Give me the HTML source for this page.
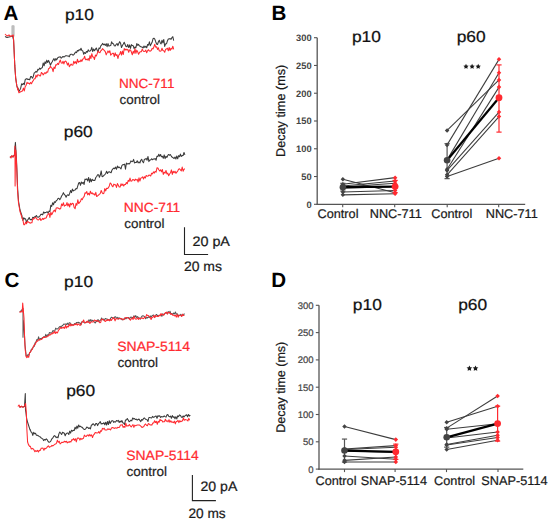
<!DOCTYPE html>
<html><head><meta charset="utf-8"><title>figure</title>
<style>
html,body{margin:0;padding:0;background:#fff;}
body{width:550px;height:523px;position:relative;overflow:hidden;font-family:"Liberation Sans", sans-serif;}
svg text{font-family:"Liberation Sans", sans-serif;text-rendering:geometricPrecision;}
</style></head><body>
<svg width="550" height="523" viewBox="0 0 550 523" style="position:absolute;left:0;top:0">
<text x="3.60" y="19.50" font-size="20.60" fill="#000" font-weight="bold" text-anchor="start" >A</text>
<text x="271.60" y="20.40" font-size="20.60" fill="#000" font-weight="bold" text-anchor="start" >B</text>
<text x="4.50" y="286.60" font-size="20.60" fill="#000" font-weight="bold" text-anchor="start" >C</text>
<text x="271.20" y="286.70" font-size="20.60" fill="#000" font-weight="bold" text-anchor="start" >D</text>
<text x="0" y="0" font-size="15.80" fill="#111" stroke="#111" stroke-width="0.22" font-weight="normal" text-anchor="start" transform="translate(64.95,19.80) scale(1.100,1)">p10</text>
<text x="0" y="0" font-size="15.80" fill="#111" stroke="#111" stroke-width="0.22" font-weight="normal" text-anchor="start" transform="translate(63.75,136.90) scale(1.100,1)">p60</text>
<rect x="11.9" y="25.8" width="2.2" height="10.5" fill="#c4c4c4" stroke="#999" stroke-width="0.5"/>
<polyline points="5.00,36.50 7.00,37.50 9.00,37.00 11.00,36.50 12.60,36.00 13.60,40.00 14.10,50.60 14.80,65.90 15.70,78.10 16.80,85.70 18.00,89.50 18.00,87.76 18.90,91.42 19.80,89.94 20.70,88.23 21.60,83.83 22.50,84.70 23.40,83.33 24.30,84.71 25.20,79.70 26.10,78.88 27.00,78.72 27.90,79.52 28.80,79.23 29.70,79.82 30.60,76.52 31.50,76.54 32.40,78.15 33.30,76.40 34.20,72.99 35.10,72.31 36.00,71.29 36.90,72.11 37.80,69.36 38.70,69.88 39.60,68.11 40.50,69.15 41.40,67.98 42.30,67.76 43.20,62.91 44.10,65.79 45.00,61.86 45.90,63.45 46.80,60.14 47.70,62.53 48.60,60.36 49.50,62.42 50.40,65.17 51.30,63.31 52.20,61.83 53.10,60.03 54.00,58.66 54.90,60.87 55.80,58.61 56.70,59.88 57.60,57.93 58.50,57.26 59.40,57.01 60.30,56.77 61.20,58.25 62.10,57.26 63.00,56.53 63.90,56.97 64.80,56.43 65.70,55.80 66.60,55.80 67.50,55.98 68.40,55.97 69.30,56.78 70.20,54.56 71.10,54.22 72.00,54.24 72.90,55.18 73.80,54.82 74.70,53.40 75.60,51.94 76.50,52.71 77.40,50.51 78.30,50.98 79.20,49.59 80.10,50.18 81.00,48.30 81.90,50.43 82.80,50.91 83.70,54.25 84.60,52.50 85.50,53.51 86.40,51.51 87.30,52.24 88.20,49.83 89.10,51.28 90.00,51.10 90.90,50.07 91.80,47.41 92.70,51.61 93.60,49.02 94.50,50.74 95.40,49.39 96.30,47.99 97.20,50.31 98.10,51.88 99.00,47.98 99.90,48.67 100.80,45.91 101.70,44.93 102.60,43.40 103.50,44.81 104.40,44.07 105.30,45.43 106.20,43.65 107.10,46.72 108.00,43.55 108.90,46.14 109.80,45.75 110.70,45.59 111.60,41.88 112.50,43.44 113.40,43.64 114.30,45.78 115.20,46.05 116.10,44.52 117.00,43.49 117.90,45.66 118.80,43.56 119.70,41.65 120.60,43.30 121.50,47.54 122.40,45.51 123.30,44.00 124.20,42.31 125.10,44.45 126.00,46.57 126.90,46.77 127.80,44.57 128.70,47.57 129.60,44.88 130.50,48.36 131.40,44.65 132.30,45.52 133.20,45.76 134.10,48.66 135.00,46.99 135.90,47.74 136.80,43.54 137.70,45.33 138.60,44.39 139.50,45.98 140.40,46.29 141.30,47.02 142.20,47.03 143.10,47.94 144.00,46.02 144.90,47.49 145.80,46.22 146.70,47.77 147.60,44.50 148.50,45.11 149.40,41.78 150.30,45.65 151.20,44.07 152.10,42.34 153.00,38.77 153.90,38.17 154.80,39.05 155.70,41.69 156.60,43.96 157.50,44.52 158.40,41.78 159.30,40.20 160.20,42.86 161.10,43.93 162.00,40.17 162.90,42.85 163.80,39.45 164.70,46.45 165.60,43.88 166.50,43.84 167.40,40.91 168.30,38.91 169.20,38.89 170.10,38.60 171.00,39.36 171.90,37.65 172.80,36.71 173.70,40.73" fill="none" stroke="#3a3a3a" stroke-width="1.05" stroke-linejoin="round" stroke-opacity="1.00"/>
<polyline points="5.00,34.00 7.00,36.00 9.00,35.00 11.00,36.50 13.20,35.00 13.60,40.00 14.10,50.60 14.80,65.90 15.70,78.10 16.80,85.70 18.00,90.30 18.00,88.47 18.90,92.80 19.80,92.00 20.70,91.89 21.60,91.25 22.50,90.90 23.40,88.04 24.30,90.92 25.20,86.60 26.10,85.26 27.00,82.31 27.90,83.51 28.80,82.97 29.70,84.10 30.60,82.41 31.50,83.81 32.40,81.69 33.30,80.63 34.20,78.77 35.10,78.82 36.00,75.15 36.90,77.09 37.80,74.68 38.70,74.89 39.60,75.75 40.50,75.86 41.40,72.42 42.30,73.32 43.20,74.88 44.10,73.61 45.00,72.53 45.90,73.57 46.80,71.87 47.70,72.20 48.60,68.50 49.50,68.32 50.40,66.24 51.30,67.59 52.20,68.35 53.10,71.72 54.00,67.08 54.90,68.52 55.80,64.73 56.70,65.00 57.60,63.41 58.50,64.54 59.40,61.93 60.30,60.03 61.20,62.85 62.10,63.35 63.00,61.24 63.90,63.93 64.80,61.38 65.70,61.09 66.60,62.35 67.50,64.99 68.40,62.99 69.30,66.72 70.20,65.36 71.10,64.01 72.00,65.16 72.90,65.08 73.80,61.18 74.70,63.38 75.60,61.67 76.50,63.66 77.40,59.25 78.30,62.32 79.20,61.15 80.10,61.78 81.00,59.77 81.90,61.38 82.80,59.04 83.70,58.83 84.60,56.17 85.50,59.72 86.40,59.19 87.30,60.02 88.20,58.52 89.10,60.66 90.00,55.54 90.90,58.53 91.80,53.70 92.70,56.96 93.60,57.02 94.50,59.49 95.40,55.07 96.30,56.06 97.20,53.58 98.10,51.22 99.00,52.12 99.90,52.75 100.80,50.78 101.70,50.01 102.60,48.66 103.50,49.74 104.40,50.64 105.30,51.71 106.20,54.85 107.10,52.87 108.00,50.92 108.90,52.58 109.80,50.71 110.70,55.18 111.60,54.15 112.50,53.26 113.40,53.23 114.30,56.59 115.20,52.85 116.10,55.60 117.00,54.53 117.90,58.49 118.80,55.15 119.70,54.21 120.60,51.47 121.50,55.06 122.40,51.01 123.30,54.53 124.20,48.49 125.10,50.10 126.00,49.10 126.90,50.03 127.80,49.40 128.70,52.27 129.60,49.88 130.50,49.93 131.40,52.00 132.30,54.79 133.20,51.31 134.10,53.31 135.00,48.50 135.90,53.33 136.80,50.16 137.70,51.86 138.60,54.30 139.50,52.42 140.40,51.72 141.30,51.81 142.20,49.09 143.10,50.82 144.00,51.58 144.90,51.34 145.80,50.06 146.70,52.82 147.60,50.57 148.50,49.73 149.40,51.10 150.30,51.13 151.20,50.52 152.10,48.34 153.00,48.94 153.90,46.80 154.80,44.29 155.70,47.17 156.60,46.75 157.50,49.45 158.40,47.81 159.30,50.82 160.20,51.30 161.10,50.86 162.00,48.26 162.90,50.48 163.80,50.69 164.70,52.29 165.60,49.35 166.50,49.01 167.40,48.19 168.30,50.74 169.20,47.49 170.10,50.56 171.00,48.27 171.90,49.11 172.80,46.25 173.70,49.43" fill="none" stroke="#ff2a30" stroke-width="1.05" stroke-linejoin="round" stroke-opacity="1.00"/>
<polyline points="10.00,157.50 11.50,156.00 13.00,157.00 14.50,154.50 15.40,142.40 16.00,152.00 16.50,160.00 17.00,172.00 17.60,188.00 18.50,201.00 20.00,210.00 22.00,216.00 22.00,216.88 22.90,220.40 23.80,217.72 24.70,218.92 25.60,218.89 26.50,222.54 27.40,220.23 28.30,219.15 29.20,217.48 30.10,219.62 31.00,219.46 31.90,219.67 32.80,217.18 33.70,218.02 34.60,216.74 35.50,216.61 36.40,215.45 37.30,216.99 38.20,217.27 39.10,216.69 40.00,215.77 40.90,214.38 41.80,214.32 42.70,214.84 43.60,211.92 44.50,213.06 45.40,212.52 46.30,212.19 47.20,211.70 48.10,213.12 49.00,211.16 49.90,211.56 50.80,205.31 51.70,206.34 52.60,202.78 53.50,204.78 54.40,201.76 55.30,202.40 56.20,200.71 57.10,200.11 58.00,198.56 58.90,198.32 59.80,199.69 60.70,198.20 61.60,196.05 62.50,194.68 63.40,192.66 64.30,194.48 65.20,195.32 66.10,197.27 67.00,195.34 67.90,194.79 68.80,195.54 69.70,193.34 70.60,190.51 71.50,192.64 72.40,189.13 73.30,190.93 74.20,190.20 75.10,190.04 76.00,188.46 76.90,188.89 77.80,185.92 78.70,183.03 79.60,182.44 80.50,185.31 81.40,181.97 82.30,183.39 83.20,182.28 84.10,184.49 85.00,179.14 85.90,179.48 86.80,178.83 87.70,180.99 88.60,177.42 89.50,182.33 90.40,178.70 91.30,181.81 92.20,179.25 93.10,180.43 94.00,180.31 94.90,180.43 95.80,177.50 96.70,176.50 97.60,174.69 98.50,174.67 99.40,177.25 100.30,175.04 101.20,170.90 102.10,176.72 103.00,176.27 103.90,175.49 104.80,174.58 105.70,173.53 106.60,171.32 107.50,173.47 108.40,171.91 109.30,171.70 110.20,172.24 111.10,172.74 112.00,170.02 112.90,168.83 113.80,168.05 114.70,168.70 115.60,167.13 116.50,169.28 117.40,166.07 118.30,167.63 119.20,167.04 120.10,167.95 121.00,168.93 121.90,165.58 122.80,164.72 123.70,164.63 124.60,164.16 125.50,169.16 126.40,163.00 127.30,164.08 128.20,163.52 129.10,164.02 130.00,163.08 130.90,160.89 131.80,161.73 132.70,161.51 133.60,159.38 134.50,162.96 135.40,162.40 136.30,162.53 137.20,160.75 138.10,162.90 139.00,161.97 139.90,163.02 140.80,160.28 141.70,159.22 142.60,161.74 143.50,162.76 144.40,159.23 145.30,159.22 146.20,158.41 147.10,160.16 148.00,156.49 148.90,161.60 149.80,160.10 150.70,160.02 151.60,158.77 152.50,159.71 153.40,159.03 154.30,159.10 155.20,158.49 156.10,160.18 157.00,156.16 157.90,156.46 158.80,154.29 159.70,156.28 160.60,154.56 161.50,156.82 162.40,156.25 163.30,158.24 164.20,154.91 165.10,158.63 166.00,156.30 166.90,157.44 167.80,155.42 168.70,154.48 169.60,155.29 170.50,154.62 171.40,156.37 172.30,157.31 173.20,157.79 174.10,158.50 175.00,156.93 175.90,159.07 176.80,155.99 177.70,158.79 178.60,155.63 179.50,156.80 180.40,154.06 181.30,156.49 182.20,155.62 183.10,155.49 184.00,152.51 184.90,154.93" fill="none" stroke="#3a3a3a" stroke-width="1.05" stroke-linejoin="round" stroke-opacity="1.00"/>
<polyline points="10.00,156.50 11.00,158.00 12.00,155.50 13.20,157.00 14.50,155.00 15.00,146.00 15.10,186.00 15.30,170.00 15.80,150.00 16.30,158.00 16.90,172.00 17.50,190.00 18.50,203.00 20.00,211.50 22.00,217.50 22.00,218.04 22.90,219.99 23.80,224.71 24.70,224.66 25.60,222.25 26.50,223.74 27.40,221.25 28.30,222.07 29.20,222.46 30.10,223.13 31.00,222.83 31.90,222.83 32.80,218.51 33.70,219.21 34.60,218.00 35.50,217.52 36.40,217.96 37.30,219.63 38.20,220.02 39.10,219.33 40.00,218.05 40.90,220.46 41.80,219.62 42.70,218.33 43.60,219.34 44.50,218.19 45.40,218.26 46.30,217.71 47.20,215.23 48.10,214.30 49.00,213.12 49.90,217.48 50.80,212.30 51.70,214.79 52.60,212.94 53.50,211.08 54.40,210.14 55.30,211.86 56.20,207.98 57.10,207.84 58.00,208.03 58.90,208.55 59.80,209.14 60.70,208.50 61.60,203.92 62.50,205.63 63.40,202.72 64.30,206.15 65.20,205.36 66.10,205.22 67.00,202.57 67.90,206.03 68.80,203.68 69.70,206.99 70.60,203.25 71.50,204.80 72.40,203.18 73.30,203.78 74.20,207.53 75.10,208.74 76.00,203.54 76.90,205.12 77.80,199.73 78.70,203.56 79.60,202.39 80.50,201.34 81.40,198.70 82.30,199.64 83.20,197.48 84.10,196.53 85.00,192.81 85.90,193.31 86.80,191.59 87.70,194.85 88.60,193.32 89.50,194.96 90.40,191.16 91.30,193.61 92.20,192.78 93.10,194.28 94.00,193.70 94.90,195.20 95.80,192.32 96.70,196.56 97.60,195.78 98.50,195.02 99.40,194.29 100.30,193.38 101.20,190.50 102.10,192.55 103.00,193.67 103.90,193.17 104.80,188.61 105.70,190.89 106.60,188.25 107.50,188.47 108.40,187.79 109.30,185.93 110.20,182.93 111.10,183.81 112.00,185.85 112.90,186.81 113.80,184.15 114.70,184.76 115.60,184.88 116.50,187.41 117.40,183.50 118.30,185.21 119.20,187.05 120.10,187.03 121.00,183.87 121.90,185.54 122.80,183.97 123.70,186.04 124.60,184.50 125.50,184.58 126.40,182.48 127.30,183.73 128.20,180.29 129.10,181.44 130.00,178.08 130.90,181.23 131.80,180.96 132.70,179.48 133.60,179.65 134.50,180.66 135.40,179.16 136.30,180.05 137.20,179.36 138.10,182.06 139.00,177.82 139.90,180.99 140.80,178.20 141.70,177.61 142.60,176.81 143.50,179.07 144.40,176.74 145.30,178.04 146.20,175.52 147.10,175.92 148.00,176.15 148.90,175.06 149.80,175.33 150.70,175.99 151.60,173.24 152.50,173.88 153.40,171.89 154.30,173.08 155.20,171.36 156.10,172.15 157.00,167.78 157.90,167.94 158.80,169.80 159.70,171.00 160.60,169.79 161.50,171.85 162.40,169.54 163.30,174.38 164.20,172.18 165.10,173.08 166.00,170.44 166.90,173.99 167.80,173.17 168.70,175.77 169.60,174.01 170.50,172.80 171.40,169.91 172.30,174.40 173.20,171.27 174.10,172.78 175.00,171.32 175.90,173.32 176.80,172.10 177.70,171.09 178.60,169.29 179.50,168.78 180.40,169.82 181.30,170.82 182.20,167.03 183.10,171.17 184.00,169.18 184.90,168.77" fill="none" stroke="#ff2a30" stroke-width="1.05" stroke-linejoin="round" stroke-opacity="1.00"/>
<text x="0" y="0" font-size="13.30" fill="#ff2a30" stroke="#ff2a30" stroke-width="0.22" font-weight="normal" text-anchor="start" transform="translate(118.90,87.70) scale(1.020,1)">NNC-711</text>
<text x="0" y="0" font-size="13.20" fill="#262626" stroke="#262626" stroke-width="0.22" font-weight="normal" text-anchor="start" transform="translate(119.50,104.20) scale(1.020,1)">control</text>
<text x="0" y="0" font-size="13.30" fill="#ff2a30" stroke="#ff2a30" stroke-width="0.22" font-weight="normal" text-anchor="start" transform="translate(123.70,211.60) scale(1.040,1)">NNC-711</text>
<text x="0" y="0" font-size="13.20" fill="#262626" stroke="#262626" stroke-width="0.22" font-weight="normal" text-anchor="start" transform="translate(124.20,227.80) scale(1.020,1)">control</text>
<path d="M184.5,227.3 V254.5 H208.1" fill="none" stroke="#222" stroke-width="1.1"/>
<text x="0" y="0" font-size="13.70" fill="#1a1a1a" stroke="#1a1a1a" stroke-width="0.22" font-weight="normal" text-anchor="start" transform="translate(192.40,246.20) scale(1.050,1)">20 pA</text>
<text x="0" y="0" font-size="13.70" fill="#1a1a1a" stroke="#1a1a1a" stroke-width="0.22" font-weight="normal" text-anchor="start" transform="translate(183.90,271.20) scale(1.020,1)">20 ms</text>
<text x="0" y="0" font-size="15.80" fill="#111" stroke="#111" stroke-width="0.22" font-weight="normal" text-anchor="start" transform="translate(64.05,286.90) scale(1.100,1)">p10</text>
<text x="0" y="0" font-size="15.80" fill="#111" stroke="#111" stroke-width="0.22" font-weight="normal" text-anchor="start" transform="translate(66.15,396.30) scale(1.100,1)">p60</text>
<polyline points="19.60,311.70 21.00,311.00 22.50,309.00 23.00,308.40 23.00,337.20 23.30,320.00 24.20,330.00 25.00,345.00 26.00,354.00 26.00,355.29 26.90,356.34 27.80,354.73 28.70,355.27 29.60,352.81 30.50,351.84 31.40,349.11 32.30,349.25 33.20,346.90 34.10,346.55 35.00,343.20 35.90,342.09 36.80,339.59 37.70,340.20 38.60,336.85 39.50,340.04 40.40,338.42 41.30,338.65 42.20,338.03 43.10,337.54 44.00,336.52 44.90,337.41 45.80,334.35 46.70,336.78 47.60,334.83 48.50,335.28 49.40,332.59 50.30,332.72 51.20,333.31 52.10,332.25 53.00,330.50 53.90,331.31 54.80,330.92 55.70,328.16 56.60,329.04 57.50,328.98 58.40,328.11 59.30,326.98 60.20,326.35 61.10,328.03 62.00,325.79 62.90,325.33 63.80,323.96 64.70,324.19 65.60,324.04 66.50,324.57 67.40,323.16 68.30,324.85 69.20,322.77 70.10,322.84 71.00,325.14 71.90,324.39 72.80,325.00 73.70,324.84 74.60,323.44 75.50,324.54 76.40,322.55 77.30,322.83 78.20,322.27 79.10,322.89 80.00,322.86 80.90,324.86 81.80,321.69 82.70,321.80 83.60,322.05 84.50,322.93 85.40,322.62 86.30,321.92 87.20,321.68 88.10,322.04 89.00,319.67 89.90,321.63 90.80,319.44 91.70,321.49 92.60,320.21 93.50,320.99 94.40,322.12 95.30,323.00 96.20,321.21 97.10,321.57 98.00,319.54 98.90,321.58 99.80,320.61 100.70,320.00 101.60,317.95 102.50,319.67 103.40,318.97 104.30,320.63 105.20,318.44 106.10,318.83 107.00,318.95 107.90,319.74 108.80,319.61 109.70,320.74 110.60,318.27 111.50,317.17 112.40,317.73 113.30,318.28 114.20,318.17 115.10,316.62 116.00,317.18 116.90,318.57 117.80,317.36 118.70,318.89 119.60,317.94 120.50,318.74 121.40,318.82 122.30,319.92 123.20,319.12 124.10,319.20 125.00,317.92 125.90,318.90 126.80,317.93 127.70,317.75 128.60,317.55 129.50,319.00 130.40,317.26 131.30,317.13 132.20,317.42 133.10,317.44 134.00,315.71 134.90,317.24 135.80,315.63 136.70,317.66 137.60,316.55 138.50,317.73 139.40,317.96 140.30,319.08 141.20,317.33 142.10,315.91 143.00,315.76 143.90,316.12 144.80,316.86 145.70,318.69 146.60,317.44 147.50,317.96 148.40,316.92 149.30,317.67 150.20,315.87 151.10,317.33 152.00,315.66 152.90,315.35 153.80,315.12 154.70,317.37 155.60,315.47 156.50,314.46 157.40,315.53 158.30,316.05 159.20,315.35 160.10,315.21 161.00,314.66 161.90,316.33 162.80,313.71 163.70,314.83 164.60,313.67 165.50,313.12 166.40,312.55 167.30,313.59 168.20,311.47 169.10,313.34 170.00,311.23 170.90,313.86 171.80,313.50 172.70,314.41 173.60,313.02 174.50,313.87 175.40,311.96 176.30,314.19 177.20,313.81 178.10,315.37 179.00,315.25 179.90,315.60 180.80,314.20 181.70,315.94 182.60,314.63 183.50,315.26 184.40,313.43" fill="none" stroke="#555" stroke-width="1.05" stroke-linejoin="round" stroke-opacity="1.00"/>
<polyline points="19.60,312.50 21.00,311.50 22.20,312.00 22.70,303.00 23.30,310.00 24.00,318.00 24.50,335.00 25.20,350.00 26.00,355.00 26.00,356.39 26.90,357.61 27.80,356.21 28.70,357.30 29.60,352.62 30.50,351.99 31.40,350.16 32.30,349.12 33.20,346.92 34.10,345.02 35.00,344.77 35.90,342.77 36.80,340.98 37.70,341.23 38.60,339.83 39.50,339.60 40.40,339.75 41.30,339.51 42.20,338.87 43.10,337.38 44.00,337.33 44.90,337.48 45.80,336.72 46.70,337.05 47.60,335.96 48.50,335.92 49.40,334.66 50.30,335.05 51.20,333.88 52.10,334.09 53.00,332.43 53.90,333.29 54.80,331.15 55.70,333.56 56.60,332.04 57.50,332.82 58.40,330.41 59.30,329.45 60.20,327.61 61.10,328.38 62.00,327.46 62.90,328.16 63.80,327.09 64.70,328.36 65.60,325.03 66.50,328.07 67.40,326.24 68.30,326.91 69.20,324.31 70.10,325.96 71.00,323.90 71.90,325.67 72.80,324.86 73.70,325.40 74.60,324.13 75.50,324.60 76.40,323.55 77.30,325.16 78.20,323.87 79.10,324.53 80.00,325.35 80.90,324.73 81.80,322.51 82.70,321.63 83.60,319.99 84.50,322.51 85.40,322.86 86.30,322.43 87.20,321.03 88.10,322.35 89.00,321.93 89.90,323.44 90.80,321.96 91.70,322.02 92.60,321.98 93.50,321.64 94.40,319.96 95.30,320.66 96.20,320.40 97.10,321.23 98.00,320.72 98.90,321.59 99.80,322.64 100.70,322.42 101.60,319.10 102.50,319.54 103.40,319.84 104.30,320.14 105.20,321.55 106.10,320.92 107.00,319.59 107.90,320.55 108.80,319.45 109.70,320.71 110.60,319.34 111.50,320.34 112.40,318.79 113.30,317.59 114.20,318.53 115.10,320.88 116.00,318.42 116.90,318.89 117.80,319.02 118.70,319.00 119.60,318.36 120.50,318.87 121.40,318.61 122.30,318.99 123.20,319.78 124.10,319.50 125.00,318.05 125.90,317.63 126.80,317.64 127.70,317.85 128.60,318.13 129.50,319.21 130.40,320.19 131.30,318.78 132.20,317.94 133.10,319.46 134.00,316.38 134.90,318.53 135.80,319.16 136.70,318.99 137.60,317.75 138.50,319.41 139.40,318.11 140.30,318.72 141.20,318.29 142.10,317.85 143.00,318.73 143.90,318.19 144.80,317.13 145.70,317.44 146.60,314.60 147.50,315.40 148.40,315.55 149.30,316.90 150.20,317.17 151.10,319.51 152.00,317.58 152.90,317.23 153.80,315.51 154.70,317.60 155.60,315.51 156.50,316.27 157.40,316.51 158.30,316.39 159.20,315.18 160.10,315.99 161.00,313.54 161.90,314.86 162.80,314.32 163.70,315.21 164.60,313.69 165.50,312.60 166.40,312.11 167.30,314.14 168.20,312.35 169.10,312.55 170.00,312.93 170.90,314.44 171.80,313.78 172.70,315.20 173.60,315.00 174.50,315.95 175.40,315.16 176.30,317.14 177.20,314.35 178.10,317.21 179.00,315.53 179.90,315.21 180.80,315.20 181.70,316.56 182.60,314.13 183.50,315.51 184.40,315.47" fill="none" stroke="#ff2a30" stroke-width="1.05" stroke-linejoin="round" stroke-opacity="1.00"/>
<text x="0" y="0" font-size="13.50" fill="#ff2a30" stroke="#ff2a30" stroke-width="0.22" font-weight="normal" text-anchor="start" transform="translate(117.30,350.60) scale(1.035,1)">SNAP-5114</text>
<text x="0" y="0" font-size="13.30" fill="#262626" stroke="#262626" stroke-width="0.22" font-weight="normal" text-anchor="start" transform="translate(117.40,366.80) scale(1.020,1)">control</text>
<polyline points="19.00,407.00 21.00,406.50 23.00,407.00 24.50,406.50 25.30,393.60 25.50,410.00 26.00,413.00 26.60,418.00 27.20,421.00 30.10,430.20 30.10,429.17 31.00,431.80 31.90,432.50 32.80,435.41 33.70,432.33 34.60,433.74 35.50,433.19 36.40,435.30 37.30,435.18 38.20,435.69 39.10,436.45 40.00,436.69 40.90,437.79 41.80,438.39 42.70,438.83 43.60,440.63 44.50,439.46 45.40,440.06 46.30,438.88 47.20,439.61 48.10,441.45 49.00,442.30 49.90,441.92 50.80,441.14 51.70,439.03 52.60,438.30 53.50,436.65 54.40,435.67 55.30,436.30 56.20,437.63 57.10,436.99 58.00,437.81 58.90,433.86 59.80,432.01 60.70,433.30 61.60,434.51 62.50,432.20 63.40,432.70 64.30,433.23 65.20,435.70 66.10,433.70 67.00,433.07 67.90,433.00 68.80,434.50 69.70,431.16 70.60,433.11 71.50,430.17 72.40,431.17 73.30,430.29 74.20,430.50 75.10,427.22 76.00,429.03 76.90,426.05 77.80,428.21 78.70,424.95 79.60,426.80 80.50,426.18 81.40,427.14 82.30,427.17 83.20,428.64 84.10,429.49 85.00,429.42 85.90,428.57 86.80,427.11 87.70,427.40 88.60,428.49 89.50,427.88 90.40,428.91 91.30,425.32 92.20,424.81 93.10,423.69 94.00,424.63 94.90,425.59 95.80,423.56 96.70,423.47 97.60,425.64 98.50,423.66 99.40,422.82 100.30,421.61 101.20,423.94 102.10,423.50 103.00,423.62 103.90,422.73 104.80,424.76 105.70,422.22 106.60,425.07 107.50,421.49 108.40,424.58 109.30,420.69 110.20,423.55 111.10,421.71 112.00,420.70 112.90,420.68 113.80,422.39 114.70,421.60 115.60,422.10 116.50,420.55 117.40,421.14 118.30,420.34 119.20,422.52 120.10,421.07 121.00,422.07 121.90,420.58 122.80,422.69 123.70,423.14 124.60,424.45 125.50,419.92 126.40,420.05 127.30,418.56 128.20,420.11 129.10,421.77 130.00,421.23 130.90,420.19 131.80,420.84 132.70,417.93 133.60,419.00 134.50,418.53 135.40,419.57 136.30,419.13 137.20,420.19 138.10,419.47 139.00,419.08 139.90,420.40 140.80,421.66 141.70,419.46 142.60,420.14 143.50,418.43 144.40,417.92 145.30,419.02 146.20,419.41 147.10,419.66 148.00,421.42 148.90,417.50 149.80,417.55 150.70,417.84 151.60,417.99 152.50,416.42 153.40,417.35 154.30,417.08 155.20,416.27 156.10,416.03 157.00,418.25 157.90,415.74 158.80,416.27 159.70,415.83 160.60,417.44 161.50,416.53 162.40,416.87 163.30,416.82 164.20,415.82 165.10,416.62 166.00,417.15 166.90,415.07 167.80,414.52 168.70,416.22 169.60,416.82 170.50,416.04 171.40,418.25 172.30,415.60 173.20,417.34 174.10,416.72 175.00,418.72 175.90,416.65 176.80,418.93 177.70,415.82 178.60,416.61 179.50,414.91 180.40,415.35 181.30,417.02 182.20,417.44 183.10,415.91 184.00,416.98 184.90,415.96 185.80,415.20 186.70,414.71 187.60,416.81 188.50,414.47 189.40,416.10 190.30,415.12" fill="none" stroke="#3a3a3a" stroke-width="1.05" stroke-linejoin="round" stroke-opacity="1.00"/>
<polyline points="17.90,406.50 19.00,405.00 20.20,407.50 21.50,406.00 23.00,407.50 24.50,406.00 25.60,403.50 26.30,412.00 26.90,430.00 27.60,442.00 28.60,445.20 28.60,444.56 29.50,446.38 30.40,446.31 31.30,449.04 32.20,448.39 33.10,448.74 34.00,449.92 34.90,451.67 35.80,450.55 36.70,451.48 37.60,450.31 38.50,451.92 39.40,450.36 40.30,450.42 41.20,448.15 42.10,448.29 43.00,448.11 43.90,450.32 44.80,448.34 45.70,448.71 46.60,447.85 47.50,446.64 48.40,445.76 49.30,447.34 50.20,446.68 51.10,446.42 52.00,445.35 52.90,445.94 53.80,445.20 54.70,444.24 55.60,444.07 56.50,443.12 57.40,440.16 58.30,442.33 59.20,441.27 60.10,443.88 61.00,443.13 61.90,442.22 62.80,442.50 63.70,441.98 64.60,441.25 65.50,442.02 66.40,441.23 67.30,442.89 68.20,441.82 69.10,442.39 70.00,441.43 70.90,442.07 71.80,439.64 72.70,439.87 73.60,438.66 74.50,440.37 75.40,438.69 76.30,441.85 77.20,438.26 78.10,437.89 79.00,438.15 79.90,440.10 80.80,438.36 81.70,439.29 82.60,438.70 83.50,438.18 84.40,435.15 85.30,436.13 86.20,436.43 87.10,435.30 88.00,434.85 88.90,436.08 89.80,434.41 90.70,436.03 91.60,434.93 92.50,437.45 93.40,435.09 94.30,434.21 95.20,432.41 96.10,432.68 97.00,433.03 97.90,432.80 98.80,431.68 99.70,433.27 100.60,430.71 101.50,431.29 102.40,428.30 103.30,429.07 104.20,428.21 105.10,429.97 106.00,429.96 106.90,429.95 107.80,428.74 108.70,429.43 109.60,429.10 110.50,430.00 111.40,428.21 112.30,427.51 113.20,427.69 114.10,428.44 115.00,428.06 115.90,427.88 116.80,428.32 117.70,427.37 118.60,427.50 119.50,427.28 120.40,425.08 121.30,424.98 122.20,424.62 123.10,427.42 124.00,426.44 124.90,427.32 125.80,423.22 126.70,426.22 127.60,425.76 128.50,425.85 129.40,424.45 130.30,425.93 131.20,426.83 132.10,425.72 133.00,424.60 133.90,427.35 134.80,425.16 135.70,425.82 136.60,425.17 137.50,424.95 138.40,424.98 139.30,424.91 140.20,425.64 141.10,426.36 142.00,427.54 142.90,427.08 143.80,426.50 144.70,424.84 145.60,423.94 146.50,425.28 147.40,425.68 148.30,423.59 149.20,424.04 150.10,425.00 151.00,424.79 151.90,425.10 152.80,423.05 153.70,422.96 154.60,420.71 155.50,422.57 156.40,421.34 157.30,424.33 158.20,421.25 159.10,422.31 160.00,419.29 160.90,420.62 161.80,420.24 162.70,421.88 163.60,421.75 164.50,421.62 165.40,419.18 166.30,421.27 167.20,420.74 168.10,421.90 169.00,419.79 169.90,422.26 170.80,420.75 171.70,422.21 172.60,421.97 173.50,422.60 174.40,421.17 175.30,423.86 176.20,421.46 177.10,421.36 178.00,420.33 178.90,422.63 179.80,420.66 180.70,421.66 181.60,421.27 182.50,420.72 183.40,417.90 184.30,420.23 185.20,419.56 186.10,419.78 187.00,419.93 187.90,421.00 188.80,418.37 189.70,420.25" fill="none" stroke="#ff2a30" stroke-width="1.05" stroke-linejoin="round" stroke-opacity="1.00"/>
<text x="0" y="0" font-size="13.50" fill="#ff2a30" stroke="#ff2a30" stroke-width="0.22" font-weight="normal" text-anchor="start" transform="translate(126.30,460.00) scale(1.030,1)">SNAP-5114</text>
<text x="0" y="0" font-size="13.30" fill="#262626" stroke="#262626" stroke-width="0.22" font-weight="normal" text-anchor="start" transform="translate(126.40,476.20) scale(1.020,1)">control</text>
<path d="M192.4,474.9 V500.6 H215.9" fill="none" stroke="#222" stroke-width="1.1"/>
<text x="0" y="0" font-size="13.70" fill="#1a1a1a" stroke="#1a1a1a" stroke-width="0.22" font-weight="normal" text-anchor="start" transform="translate(200.50,490.90) scale(1.030,1)">20 pA</text>
<text x="188.40" y="518.10" font-size="13.70" fill="#1a1a1a" stroke="#1a1a1a" stroke-width="0.22" font-weight="normal" text-anchor="start" >20 ms</text>
<line x1="317.20" y1="37.70" x2="317.20" y2="204.90" stroke="#555" stroke-width="1.3"/>
<line x1="316.60" y1="204.30" x2="525.20" y2="204.30" stroke="#555" stroke-width="1.3"/>
<line x1="314.00" y1="204.30" x2="317.20" y2="204.30" stroke="#555" stroke-width="1.1"/>
<text x="311.60" y="207.70" font-size="9.30" fill="#444" font-weight="bold" text-anchor="end" >0</text>
<line x1="314.00" y1="176.53" x2="317.20" y2="176.53" stroke="#555" stroke-width="1.1"/>
<text x="311.60" y="179.93" font-size="9.30" fill="#444" font-weight="bold" text-anchor="end" >50</text>
<line x1="314.00" y1="148.77" x2="317.20" y2="148.77" stroke="#555" stroke-width="1.1"/>
<text x="311.60" y="152.17" font-size="9.30" fill="#444" font-weight="bold" text-anchor="end" >100</text>
<line x1="314.00" y1="121.00" x2="317.20" y2="121.00" stroke="#555" stroke-width="1.1"/>
<text x="311.60" y="124.40" font-size="9.30" fill="#444" font-weight="bold" text-anchor="end" >150</text>
<line x1="314.00" y1="93.23" x2="317.20" y2="93.23" stroke="#555" stroke-width="1.1"/>
<text x="311.60" y="96.63" font-size="9.30" fill="#444" font-weight="bold" text-anchor="end" >200</text>
<line x1="314.00" y1="65.47" x2="317.20" y2="65.47" stroke="#555" stroke-width="1.1"/>
<text x="311.60" y="68.87" font-size="9.30" fill="#444" font-weight="bold" text-anchor="end" >250</text>
<line x1="314.00" y1="37.70" x2="317.20" y2="37.70" stroke="#555" stroke-width="1.1"/>
<text x="311.60" y="41.10" font-size="9.30" fill="#444" font-weight="bold" text-anchor="end" >300</text>
<line x1="342.70" y1="204.30" x2="342.70" y2="207.30" stroke="#555" stroke-width="1.1"/>
<line x1="394.70" y1="204.30" x2="394.70" y2="207.30" stroke="#555" stroke-width="1.1"/>
<line x1="447.20" y1="204.30" x2="447.20" y2="207.30" stroke="#555" stroke-width="1.1"/>
<line x1="498.70" y1="204.30" x2="498.70" y2="207.30" stroke="#555" stroke-width="1.1"/>
<text x="0" y="0" font-size="12.60" fill="#1a1a1a" stroke="#1a1a1a" stroke-width="0.22" font-weight="normal" text-anchor="start" transform="translate(317.50,218.30) scale(1.010,1)">Control</text>
<text x="0" y="0" font-size="12.60" fill="#1a1a1a" stroke="#1a1a1a" stroke-width="0.22" font-weight="normal" text-anchor="start" transform="translate(369.75,218.30) scale(1.010,1)">NNC-711</text>
<text x="0" y="0" font-size="12.60" fill="#1a1a1a" stroke="#1a1a1a" stroke-width="0.22" font-weight="normal" text-anchor="start" transform="translate(431.20,218.30) scale(1.010,1)">Control</text>
<text x="0" y="0" font-size="12.60" fill="#1a1a1a" stroke="#1a1a1a" stroke-width="0.22" font-weight="normal" text-anchor="start" transform="translate(485.75,218.30) scale(1.010,1)">NNC-711</text>
<text x="0.00" y="0.00" font-size="12.70" fill="#1a1a1a" stroke="#1a1a1a" stroke-width="0.22" font-weight="normal" text-anchor="start" transform="translate(285.40,157.00) rotate(-90)">Decay time (ms)</text>
<line x1="342.90" y1="179.31" x2="395.10" y2="192.64" stroke="#3c3c3c" stroke-width="1.05"/>
<line x1="342.90" y1="184.31" x2="395.10" y2="177.64" stroke="#3c3c3c" stroke-width="1.05"/>
<line x1="342.90" y1="185.97" x2="395.10" y2="180.98" stroke="#3c3c3c" stroke-width="1.05"/>
<line x1="342.90" y1="187.08" x2="395.10" y2="183.20" stroke="#3c3c3c" stroke-width="1.05"/>
<line x1="342.90" y1="188.20" x2="395.10" y2="186.53" stroke="#3c3c3c" stroke-width="1.05"/>
<line x1="342.90" y1="192.08" x2="395.10" y2="190.42" stroke="#3c3c3c" stroke-width="1.05"/>
<line x1="342.90" y1="194.86" x2="395.10" y2="193.75" stroke="#3c3c3c" stroke-width="1.05"/>
<line x1="342.90" y1="183.31" x2="342.90" y2="191.08" stroke="#555" stroke-width="1.2"/>
<line x1="340.30" y1="183.31" x2="345.50" y2="183.31" stroke="#555" stroke-width="1.2"/>
<line x1="340.30" y1="191.08" x2="345.50" y2="191.08" stroke="#555" stroke-width="1.2"/>
<line x1="395.10" y1="180.42" x2="395.10" y2="192.64" stroke="#ff2a30" stroke-width="1.2"/>
<line x1="392.50" y1="180.42" x2="397.70" y2="180.42" stroke="#ff2a30" stroke-width="1.2"/>
<line x1="392.50" y1="192.64" x2="397.70" y2="192.64" stroke="#ff2a30" stroke-width="1.2"/>
<line x1="342.90" y1="187.20" x2="395.10" y2="186.53" stroke="#000" stroke-width="2.2"/>
<rect x="341.30" y="177.71" width="3.2" height="3.2" fill="#444" transform="rotate(45 342.90 179.31)"/>
<rect x="393.50" y="191.04" width="3.2" height="3.2" fill="#ff2a30" transform="rotate(45 395.10 192.64)"/>
<rect x="341.30" y="182.71" width="3.2" height="3.2" fill="#444" transform="rotate(45 342.90 184.31)"/>
<rect x="393.50" y="176.04" width="3.2" height="3.2" fill="#ff2a30" transform="rotate(45 395.10 177.64)"/>
<rect x="341.30" y="184.37" width="3.2" height="3.2" fill="#444" transform="rotate(45 342.90 185.97)"/>
<rect x="393.50" y="179.38" width="3.2" height="3.2" fill="#ff2a30" transform="rotate(45 395.10 180.98)"/>
<rect x="341.30" y="185.48" width="3.2" height="3.2" fill="#444" transform="rotate(45 342.90 187.08)"/>
<rect x="393.50" y="181.60" width="3.2" height="3.2" fill="#ff2a30" transform="rotate(45 395.10 183.20)"/>
<rect x="341.30" y="186.60" width="3.2" height="3.2" fill="#444" transform="rotate(45 342.90 188.20)"/>
<rect x="393.50" y="184.93" width="3.2" height="3.2" fill="#ff2a30" transform="rotate(45 395.10 186.53)"/>
<rect x="341.30" y="190.48" width="3.2" height="3.2" fill="#444" transform="rotate(45 342.90 192.08)"/>
<rect x="393.50" y="188.82" width="3.2" height="3.2" fill="#ff2a30" transform="rotate(45 395.10 190.42)"/>
<rect x="341.30" y="193.26" width="3.2" height="3.2" fill="#444" transform="rotate(45 342.90 194.86)"/>
<rect x="393.50" y="192.15" width="3.2" height="3.2" fill="#ff2a30" transform="rotate(45 395.10 193.75)"/>
<circle cx="342.90" cy="187.20" r="3.3" fill="#444"/>
<circle cx="395.10" cy="186.53" r="3.4" fill="#ff2a30"/>
<line x1="447.10" y1="130.44" x2="499.00" y2="79.91" stroke="#3c3c3c" stroke-width="1.05"/>
<line x1="447.10" y1="144.88" x2="499.00" y2="59.36" stroke="#3c3c3c" stroke-width="1.05"/>
<line x1="447.10" y1="159.87" x2="499.00" y2="72.69" stroke="#3c3c3c" stroke-width="1.05"/>
<line x1="447.10" y1="169.31" x2="499.00" y2="87.12" stroke="#3c3c3c" stroke-width="1.05"/>
<line x1="447.10" y1="170.42" x2="499.00" y2="112.11" stroke="#3c3c3c" stroke-width="1.05"/>
<line x1="447.10" y1="174.87" x2="499.00" y2="116.56" stroke="#3c3c3c" stroke-width="1.05"/>
<line x1="447.10" y1="176.53" x2="499.00" y2="158.21" stroke="#3c3c3c" stroke-width="1.05"/>
<line x1="447.10" y1="143.66" x2="447.10" y2="178.64" stroke="#555" stroke-width="1.2"/>
<line x1="444.50" y1="143.66" x2="449.70" y2="143.66" stroke="#555" stroke-width="1.2"/>
<line x1="444.50" y1="178.64" x2="449.70" y2="178.64" stroke="#555" stroke-width="1.2"/>
<line x1="499.00" y1="64.91" x2="499.00" y2="132.11" stroke="#ff2a30" stroke-width="1.2"/>
<line x1="496.40" y1="64.91" x2="501.60" y2="64.91" stroke="#ff2a30" stroke-width="1.2"/>
<line x1="496.40" y1="132.11" x2="501.60" y2="132.11" stroke="#ff2a30" stroke-width="1.2"/>
<line x1="447.10" y1="160.32" x2="499.00" y2="97.68" stroke="#000" stroke-width="2.2"/>
<rect x="445.50" y="128.84" width="3.2" height="3.2" fill="#444" transform="rotate(45 447.10 130.44)"/>
<rect x="497.40" y="78.31" width="3.2" height="3.2" fill="#ff2a30" transform="rotate(45 499.00 79.91)"/>
<rect x="445.50" y="143.28" width="3.2" height="3.2" fill="#444" transform="rotate(45 447.10 144.88)"/>
<rect x="497.40" y="57.76" width="3.2" height="3.2" fill="#ff2a30" transform="rotate(45 499.00 59.36)"/>
<rect x="445.50" y="158.27" width="3.2" height="3.2" fill="#444" transform="rotate(45 447.10 159.87)"/>
<rect x="497.40" y="71.09" width="3.2" height="3.2" fill="#ff2a30" transform="rotate(45 499.00 72.69)"/>
<rect x="445.50" y="167.71" width="3.2" height="3.2" fill="#444" transform="rotate(45 447.10 169.31)"/>
<rect x="497.40" y="85.52" width="3.2" height="3.2" fill="#ff2a30" transform="rotate(45 499.00 87.12)"/>
<rect x="445.50" y="168.82" width="3.2" height="3.2" fill="#444" transform="rotate(45 447.10 170.42)"/>
<rect x="497.40" y="110.51" width="3.2" height="3.2" fill="#ff2a30" transform="rotate(45 499.00 112.11)"/>
<rect x="445.50" y="173.27" width="3.2" height="3.2" fill="#444" transform="rotate(45 447.10 174.87)"/>
<rect x="497.40" y="114.96" width="3.2" height="3.2" fill="#ff2a30" transform="rotate(45 499.00 116.56)"/>
<rect x="445.50" y="174.93" width="3.2" height="3.2" fill="#444" transform="rotate(45 447.10 176.53)"/>
<rect x="497.40" y="156.61" width="3.2" height="3.2" fill="#ff2a30" transform="rotate(45 499.00 158.21)"/>
<circle cx="447.10" cy="160.32" r="3.3" fill="#444"/>
<circle cx="499.00" cy="97.68" r="3.4" fill="#ff2a30"/>
<polygon points="466.00,63.80 466.82,65.47 468.66,65.73 467.33,67.03 467.65,68.87 466.00,68.00 464.35,68.87 464.67,67.03 463.34,65.73 465.18,65.47" fill="#1a1a1a"/>
<polygon points="472.10,63.80 472.92,65.47 474.76,65.73 473.43,67.03 473.75,68.87 472.10,68.00 470.45,68.87 470.77,67.03 469.44,65.73 471.28,65.47" fill="#1a1a1a"/>
<polygon points="478.20,63.80 479.02,65.47 480.86,65.73 479.53,67.03 479.85,68.87 478.20,68.00 476.55,68.87 476.87,67.03 475.54,65.73 477.38,65.47" fill="#1a1a1a"/>
<text x="0" y="0" font-size="15.80" fill="#111" stroke="#111" stroke-width="0.22" font-weight="normal" text-anchor="start" transform="translate(351.95,41.90) scale(1.100,1)">p10</text>
<text x="0" y="0" font-size="15.80" fill="#111" stroke="#111" stroke-width="0.22" font-weight="normal" text-anchor="start" transform="translate(456.65,41.90) scale(1.100,1)">p60</text>
<line x1="319.00" y1="305.30" x2="319.00" y2="469.70" stroke="#555" stroke-width="1.3"/>
<line x1="318.40" y1="469.10" x2="523.30" y2="469.10" stroke="#555" stroke-width="1.3"/>
<line x1="315.80" y1="469.10" x2="319.00" y2="469.10" stroke="#555" stroke-width="1.1"/>
<text x="313.60" y="472.50" font-size="9.50" fill="#444" stroke="#444" stroke-width="0.22" font-weight="normal" text-anchor="end" >0</text>
<line x1="315.80" y1="441.80" x2="319.00" y2="441.80" stroke="#555" stroke-width="1.1"/>
<text x="313.60" y="445.20" font-size="9.50" fill="#444" stroke="#444" stroke-width="0.22" font-weight="normal" text-anchor="end" >50</text>
<line x1="315.80" y1="414.50" x2="319.00" y2="414.50" stroke="#555" stroke-width="1.1"/>
<text x="313.60" y="417.90" font-size="9.50" fill="#444" stroke="#444" stroke-width="0.22" font-weight="normal" text-anchor="end" >100</text>
<line x1="315.80" y1="387.20" x2="319.00" y2="387.20" stroke="#555" stroke-width="1.1"/>
<text x="313.60" y="390.60" font-size="9.50" fill="#444" stroke="#444" stroke-width="0.22" font-weight="normal" text-anchor="end" >150</text>
<line x1="315.80" y1="359.90" x2="319.00" y2="359.90" stroke="#555" stroke-width="1.1"/>
<text x="313.60" y="363.30" font-size="9.50" fill="#444" stroke="#444" stroke-width="0.22" font-weight="normal" text-anchor="end" >200</text>
<line x1="315.80" y1="332.60" x2="319.00" y2="332.60" stroke="#555" stroke-width="1.1"/>
<text x="313.60" y="336.00" font-size="9.50" fill="#444" stroke="#444" stroke-width="0.22" font-weight="normal" text-anchor="end" >250</text>
<line x1="315.80" y1="305.30" x2="319.00" y2="305.30" stroke="#555" stroke-width="1.1"/>
<text x="313.60" y="308.70" font-size="9.50" fill="#444" stroke="#444" stroke-width="0.22" font-weight="normal" text-anchor="end" >300</text>
<line x1="344.50" y1="469.10" x2="344.50" y2="472.10" stroke="#555" stroke-width="1.1"/>
<line x1="395.10" y1="469.10" x2="395.10" y2="472.10" stroke="#555" stroke-width="1.1"/>
<line x1="446.50" y1="469.10" x2="446.50" y2="472.10" stroke="#555" stroke-width="1.1"/>
<line x1="498.00" y1="469.10" x2="498.00" y2="472.10" stroke="#555" stroke-width="1.1"/>
<text x="0" y="0" font-size="12.60" fill="#1a1a1a" stroke="#1a1a1a" stroke-width="0.22" font-weight="normal" text-anchor="start" transform="translate(315.50,484.50) scale(1.010,1)">Control</text>
<text x="0" y="0" font-size="12.60" fill="#1a1a1a" stroke="#1a1a1a" stroke-width="0.22" font-weight="normal" text-anchor="start" transform="translate(360.74,484.50) scale(1.010,1)">SNAP-5114</text>
<text x="0" y="0" font-size="12.60" fill="#1a1a1a" stroke="#1a1a1a" stroke-width="0.22" font-weight="normal" text-anchor="start" transform="translate(434.10,484.50) scale(1.010,1)">Control</text>
<text x="0" y="0" font-size="12.60" fill="#1a1a1a" stroke="#1a1a1a" stroke-width="0.22" font-weight="normal" text-anchor="start" transform="translate(481.34,484.50) scale(1.010,1)">SNAP-5114</text>
<text x="0.00" y="0.00" font-size="12.50" fill="#1a1a1a" stroke="#1a1a1a" stroke-width="0.22" font-weight="normal" text-anchor="start" transform="translate(285.30,432.70) rotate(-90)">Decay time (ms)</text>
<line x1="344.50" y1="426.51" x2="395.80" y2="439.62" stroke="#3c3c3c" stroke-width="1.05"/>
<line x1="344.50" y1="448.90" x2="395.80" y2="445.62" stroke="#3c3c3c" stroke-width="1.05"/>
<line x1="344.50" y1="449.44" x2="395.80" y2="447.26" stroke="#3c3c3c" stroke-width="1.05"/>
<line x1="344.50" y1="451.08" x2="395.80" y2="452.17" stroke="#3c3c3c" stroke-width="1.05"/>
<line x1="344.50" y1="456.00" x2="395.80" y2="459.27" stroke="#3c3c3c" stroke-width="1.05"/>
<line x1="344.50" y1="460.36" x2="395.80" y2="457.09" stroke="#3c3c3c" stroke-width="1.05"/>
<line x1="344.50" y1="462.00" x2="395.80" y2="462.00" stroke="#3c3c3c" stroke-width="1.05"/>
<line x1="344.50" y1="439.07" x2="344.50" y2="462.00" stroke="#555" stroke-width="1.2"/>
<line x1="341.90" y1="439.07" x2="347.10" y2="439.07" stroke="#555" stroke-width="1.2"/>
<line x1="341.90" y1="462.00" x2="347.10" y2="462.00" stroke="#555" stroke-width="1.2"/>
<line x1="395.80" y1="444.15" x2="395.80" y2="459.44" stroke="#ff2a30" stroke-width="1.2"/>
<line x1="393.20" y1="444.15" x2="398.40" y2="444.15" stroke="#ff2a30" stroke-width="1.2"/>
<line x1="393.20" y1="459.44" x2="398.40" y2="459.44" stroke="#ff2a30" stroke-width="1.2"/>
<line x1="344.50" y1="450.54" x2="395.80" y2="451.79" stroke="#000" stroke-width="2.2"/>
<rect x="342.90" y="424.91" width="3.2" height="3.2" fill="#444" transform="rotate(45 344.50 426.51)"/>
<rect x="394.20" y="438.02" width="3.2" height="3.2" fill="#ff2a30" transform="rotate(45 395.80 439.62)"/>
<rect x="342.90" y="447.30" width="3.2" height="3.2" fill="#444" transform="rotate(45 344.50 448.90)"/>
<rect x="394.20" y="444.02" width="3.2" height="3.2" fill="#ff2a30" transform="rotate(45 395.80 445.62)"/>
<rect x="342.90" y="447.84" width="3.2" height="3.2" fill="#444" transform="rotate(45 344.50 449.44)"/>
<rect x="394.20" y="445.66" width="3.2" height="3.2" fill="#ff2a30" transform="rotate(45 395.80 447.26)"/>
<rect x="342.90" y="449.48" width="3.2" height="3.2" fill="#444" transform="rotate(45 344.50 451.08)"/>
<rect x="394.20" y="450.57" width="3.2" height="3.2" fill="#ff2a30" transform="rotate(45 395.80 452.17)"/>
<rect x="342.90" y="454.40" width="3.2" height="3.2" fill="#444" transform="rotate(45 344.50 456.00)"/>
<rect x="394.20" y="457.67" width="3.2" height="3.2" fill="#ff2a30" transform="rotate(45 395.80 459.27)"/>
<rect x="342.90" y="458.76" width="3.2" height="3.2" fill="#444" transform="rotate(45 344.50 460.36)"/>
<rect x="394.20" y="455.49" width="3.2" height="3.2" fill="#ff2a30" transform="rotate(45 395.80 457.09)"/>
<rect x="342.90" y="460.40" width="3.2" height="3.2" fill="#444" transform="rotate(45 344.50 462.00)"/>
<rect x="394.20" y="460.40" width="3.2" height="3.2" fill="#ff2a30" transform="rotate(45 395.80 462.00)"/>
<circle cx="344.50" cy="450.54" r="3.3" fill="#444"/>
<circle cx="395.80" cy="451.79" r="3.4" fill="#ff2a30"/>
<line x1="446.70" y1="422.14" x2="497.60" y2="406.31" stroke="#3c3c3c" stroke-width="1.05"/>
<line x1="446.70" y1="428.15" x2="497.60" y2="395.94" stroke="#3c3c3c" stroke-width="1.05"/>
<line x1="446.70" y1="429.24" x2="497.60" y2="423.78" stroke="#3c3c3c" stroke-width="1.05"/>
<line x1="446.70" y1="437.98" x2="497.60" y2="431.97" stroke="#3c3c3c" stroke-width="1.05"/>
<line x1="446.70" y1="444.53" x2="497.60" y2="435.25" stroke="#3c3c3c" stroke-width="1.05"/>
<line x1="446.70" y1="445.08" x2="497.60" y2="437.43" stroke="#3c3c3c" stroke-width="1.05"/>
<line x1="446.70" y1="449.44" x2="497.60" y2="440.16" stroke="#3c3c3c" stroke-width="1.05"/>
<line x1="446.70" y1="427.49" x2="446.70" y2="447.15" stroke="#555" stroke-width="1.2"/>
<line x1="444.10" y1="427.49" x2="449.30" y2="427.49" stroke="#555" stroke-width="1.2"/>
<line x1="444.10" y1="447.15" x2="449.30" y2="447.15" stroke="#555" stroke-width="1.2"/>
<line x1="497.60" y1="406.15" x2="497.60" y2="441.09" stroke="#ff2a30" stroke-width="1.2"/>
<line x1="495.00" y1="406.15" x2="500.20" y2="406.15" stroke="#ff2a30" stroke-width="1.2"/>
<line x1="495.00" y1="441.09" x2="500.20" y2="441.09" stroke="#ff2a30" stroke-width="1.2"/>
<line x1="446.70" y1="437.32" x2="497.60" y2="423.62" stroke="#000" stroke-width="2.2"/>
<rect x="445.10" y="420.54" width="3.2" height="3.2" fill="#444" transform="rotate(45 446.70 422.14)"/>
<rect x="496.00" y="404.71" width="3.2" height="3.2" fill="#ff2a30" transform="rotate(45 497.60 406.31)"/>
<rect x="445.10" y="426.55" width="3.2" height="3.2" fill="#444" transform="rotate(45 446.70 428.15)"/>
<rect x="496.00" y="394.34" width="3.2" height="3.2" fill="#ff2a30" transform="rotate(45 497.60 395.94)"/>
<rect x="445.10" y="427.64" width="3.2" height="3.2" fill="#444" transform="rotate(45 446.70 429.24)"/>
<rect x="496.00" y="422.18" width="3.2" height="3.2" fill="#ff2a30" transform="rotate(45 497.60 423.78)"/>
<rect x="445.10" y="436.38" width="3.2" height="3.2" fill="#444" transform="rotate(45 446.70 437.98)"/>
<rect x="496.00" y="430.37" width="3.2" height="3.2" fill="#ff2a30" transform="rotate(45 497.60 431.97)"/>
<rect x="445.10" y="442.93" width="3.2" height="3.2" fill="#444" transform="rotate(45 446.70 444.53)"/>
<rect x="496.00" y="433.65" width="3.2" height="3.2" fill="#ff2a30" transform="rotate(45 497.60 435.25)"/>
<rect x="445.10" y="443.48" width="3.2" height="3.2" fill="#444" transform="rotate(45 446.70 445.08)"/>
<rect x="496.00" y="435.83" width="3.2" height="3.2" fill="#ff2a30" transform="rotate(45 497.60 437.43)"/>
<rect x="445.10" y="447.84" width="3.2" height="3.2" fill="#444" transform="rotate(45 446.70 449.44)"/>
<rect x="496.00" y="438.56" width="3.2" height="3.2" fill="#ff2a30" transform="rotate(45 497.60 440.16)"/>
<circle cx="446.70" cy="437.32" r="3.3" fill="#444"/>
<circle cx="497.60" cy="423.62" r="3.4" fill="#ff2a30"/>
<polygon points="469.40,365.40 470.28,367.19 472.25,367.47 470.83,368.86 471.16,370.83 469.40,369.90 467.64,370.83 467.97,368.86 466.55,367.47 468.52,367.19" fill="#1a1a1a"/>
<polygon points="475.50,365.40 476.38,367.19 478.35,367.47 476.93,368.86 477.26,370.83 475.50,369.90 473.74,370.83 474.07,368.86 472.65,367.47 474.62,367.19" fill="#1a1a1a"/>
<text x="0" y="0" font-size="15.80" fill="#111" stroke="#111" stroke-width="0.22" font-weight="normal" text-anchor="start" transform="translate(352.85,309.80) scale(1.100,1)">p10</text>
<text x="0" y="0" font-size="15.80" fill="#111" stroke="#111" stroke-width="0.22" font-weight="normal" text-anchor="start" transform="translate(458.15,309.80) scale(1.100,1)">p60</text>
</svg>
</body></html>
